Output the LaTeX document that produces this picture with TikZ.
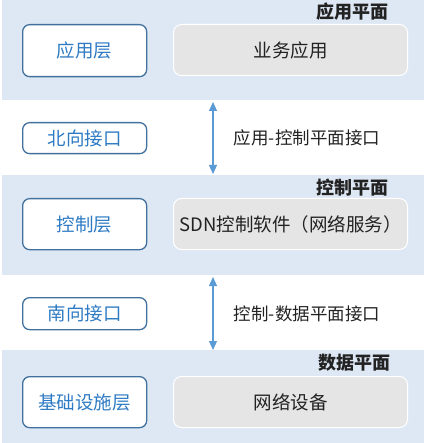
\documentclass[tikz,border=0pt]{standalone}
\usepackage{fontspec}
\newfontfamily\cjk{Noto Sans CJK SC}
\usetikzlibrary{arrows.meta}
\definecolor{bandblue}{HTML}{DEE8F5}
\definecolor{layerborder}{HTML}{41719C}
\definecolor{layertext}{HTML}{2E7BC4}
\definecolor{boxgray}{HTML}{E5E5E5}
\definecolor{arrowblue}{HTML}{5B9BD5}
\definecolor{txtdark}{HTML}{222222}
\tikzset{
  band/.style={fill=bandblue, draw=none},
  layerbox/.style={draw=layerborder, line width=1.3pt, fill=white, rounded corners=7pt,
    minimum width=124pt, anchor=north west, inner sep=0pt,
    font=\cjk\fontsize{18.5}{18.5}\selectfont, text=layertext},
  funcbox/.style={draw=white, line width=1pt, fill=boxgray, rounded corners=8pt,
    minimum width=234pt, minimum height=51pt, anchor=north west, inner sep=0pt,
    font=\cjk\fontsize{18.5}{18.5}\selectfont, text=txtdark},
  planelabel/.style={anchor=east, inner sep=0pt, font=\cjk\bfseries\fontsize{18}{18}\selectfont, text=txtdark},
  iflabel/.style={anchor=center, inner sep=0pt, font=\cjk\fontsize{17.5}{17.5}\selectfont, text=txtdark},
  biarrow/.style={draw=arrowblue, line width=1.1pt, {Triangle[width=8pt,length=9pt]}-{Triangle[width=8pt,length=9pt]}}
}
\begin{document}
\begin{tikzpicture}[x=1pt,y=-1pt]
\useasboundingbox (0,0) rectangle (426,443);
% bands
\fill[band] (2,0) rectangle (424,100);
\fill[band] (2,175) rectangle (424,275);
\fill[band] (2,350) rectangle (424,443);
% plane labels
\node[planelabel] (pA) at (389,12) {应用平面};
\node[planelabel] (pC) at (389,188) {控制平面};
\node[planelabel] (pD) at (391,363) {数据平面};
% left layer boxes
\node[layerbox, minimum height=52pt] (app) at (22,24) {应用层};
\node[layerbox, minimum height=31pt] (north) at (22,122) {北向接口};
\node[layerbox, minimum height=51pt] (ctrl) at (22,198) {控制层};
\node[layerbox, minimum height=32pt] (south) at (22,297) {南向接口};
\node[layerbox, minimum height=51pt] (infra) at (22,376) {基础设施层};
% right function boxes
\node[funcbox] (bizapp) at (173,24) {业务应用};
\node[funcbox] (sdn) at (173,198) {SDN控制软件（网络服务）};
\node[funcbox] (netdev) at (173,376) {网络设备};
% arrow anchors
\coordinate (a1t) at (213,102);
\coordinate (a1b) at (213,174);
\coordinate (a2t) at (213,277);
\coordinate (a2b) at (213,350);
\draw[biarrow] (a1t) -- (a1b);
\draw[biarrow] (a2t) -- (a2b);
% interface labels
\node[iflabel] (ifA) at (307,138) {应用-控制平面接口};
\node[iflabel] (ifB) at (307,314) {控制-数据平面接口};
\end{tikzpicture}
\end{document}
